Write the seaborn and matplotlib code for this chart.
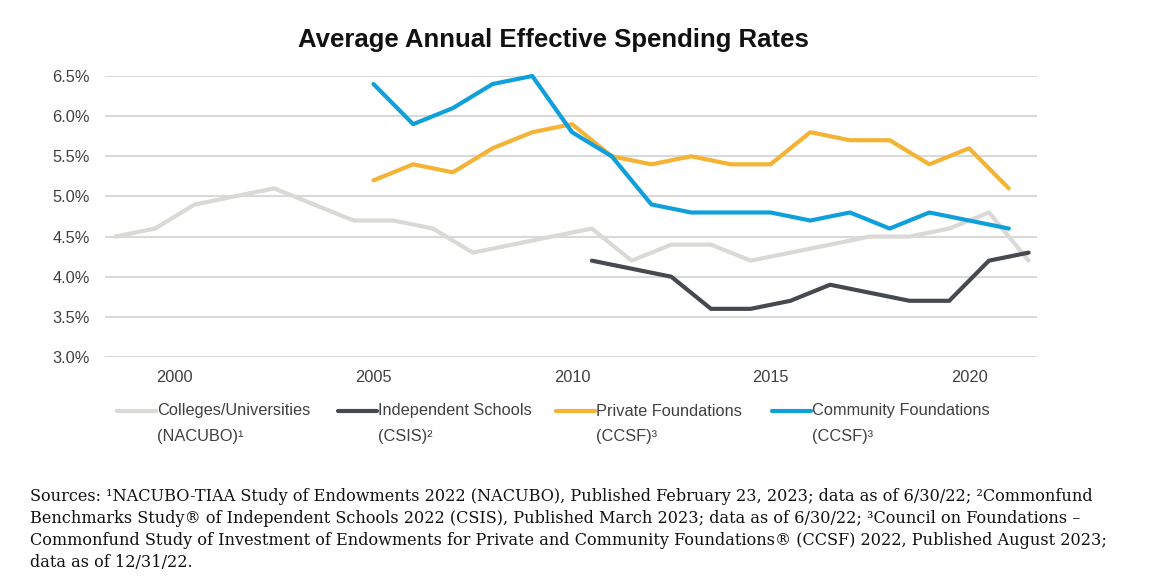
import pandas as pd
import numpy as np
import seaborn as sns
import matplotlib.pyplot as plt
from matplotlib.ticker import PercentFormatter
from matplotlib.lines import Line2D

# fiscal years ending 6/30 sit mid-year, CCSF (12/31) on the year tick
nacubo_years = [1998.5, 1999.5, 2000.5, 2001.5, 2002.5, 2003.5, 2004.5, 2005.5, 2006.5, 2007.5,
                2008.5, 2009.5, 2010.5, 2011.5, 2012.5, 2013.5, 2014.5, 2015.5, 2016.5, 2017.5,
                2018.5, 2019.5, 2020.5, 2021.5]
nacubo_rates = [4.5, 4.6, 4.9, 5.0, 5.1, 4.9, 4.7, 4.7, 4.6, 4.3,
                4.4, 4.5, 4.6, 4.2, 4.4, 4.4, 4.2, 4.3, 4.4, 4.5,
                4.5, 4.6, 4.8, 4.2]

csis_years = [2010.5, 2011.5, 2012.5, 2013.5, 2014.5, 2015.5, 2016.5, 2017.5, 2018.5, 2019.5,
              2020.5, 2021.5]
csis_rates = [4.2, 4.1, 4.0, 3.6, 3.6, 3.7, 3.9, 3.8, 3.7, 3.7, 4.2, 4.3]

ccsf_years = [2005, 2006, 2007, 2008, 2009, 2010, 2011, 2012, 2013, 2014, 2015, 2016, 2017,
              2018, 2019, 2020, 2021]
private_rates = [5.2, 5.4, 5.3, 5.6, 5.8, 5.9, 5.5, 5.4, 5.5, 5.4, 5.4, 5.8, 5.7, 5.7, 5.4, 5.6, 5.1]
community_rates = [6.4, 5.9, 6.1, 6.4, 6.5, 5.8, 5.5, 4.9, 4.8, 4.8, 4.8, 4.7, 4.8, 4.6, 4.8, 4.7, 4.6]

series = ['Colleges/Universities', 'Independent Schools', 'Private Foundations', 'Community Foundations']
sources = ['(NACUBO)\u00b9', '(CSIS)\u00b2', '(CCSF)\u00b3', '(CCSF)\u00b3']
colors = ['#d9d9d6', '#464a4f', '#f5b335', '#0fa0dc']

df = pd.concat([
    pd.DataFrame({'Year': nacubo_years, 'Rate': nacubo_rates, 'Series': series[0]}),
    pd.DataFrame({'Year': csis_years, 'Rate': csis_rates, 'Series': series[1]}),
    pd.DataFrame({'Year': ccsf_years, 'Rate': private_rates, 'Series': series[2]}),
    pd.DataFrame({'Year': ccsf_years, 'Rate': community_rates, 'Series': series[3]}),
])

sns.set_theme(style='white')
plt.rcParams['font.family'] = ['Liberation Sans', 'DejaVu Sans']

fig = plt.figure(figsize=(11.49, 5.80), dpi=100)
ax = fig.add_axes([105 / 1149, 1 - 357 / 580, 932 / 1149, 281 / 580])

sns.lineplot(data=df, x='Year', y='Rate', hue='Series', hue_order=series,
             palette=colors, linewidth=3, legend=False, ax=ax, clip_on=False)

ax.set_xlim(1998.24, 2021.71)
ax.set_ylim(3.0, 6.5)
ax.set_yticks(np.arange(3.0, 6.51, 0.5))
ax.set_xticks([2000, 2005, 2010, 2015, 2020])
ax.yaxis.set_major_formatter(PercentFormatter(decimals=1))
ax.grid(axis='y', color='#d9d9d9', linewidth=1.5)
ax.set_axisbelow(True)
for s in ax.spines.values():
    s.set_visible(False)
ax.tick_params(axis='both', length=0, labelsize=11.8, labelcolor='#404040')
ax.tick_params(axis='y', pad=11)
ax.tick_params(axis='x', pad=9)
ax.set_xlabel('')
ax.set_ylabel('')

fig.text(0.482, 1 - 40 / 580, 'Average Annual Effective Spending Rates', ha='center', va='center',
         fontsize=18.5, fontweight='bold', color='#111111')

# legend with handle on first text line
leg_x = [117, 338, 556, 772]
for name, src, c, x0 in zip(series, sources, colors, leg_x):
    fig.add_artist(Line2D([x0 / 1149, (x0 + 39) / 1149], [1 - 411 / 580] * 2,
                          color=c, linewidth=3, transform=fig.transFigure))
    fig.text((x0 + 40) / 1149, 1 - 411 / 580, name, ha='left', va='center',
             fontsize=11.8, color='#404040')
    fig.text((x0 + 40) / 1149, 1 - 437 / 580, src, ha='left', va='center',
             fontsize=11.8, color='#404040')

note = ('Sources: \u00b9NACUBO-TIAA Study of Endowments 2022 (NACUBO), Published February 23, 2023; data as of 6/30/22; \u00b2Commonfund\n'
        'Benchmarks Study\u00ae of Independent Schools 2022 (CSIS), Published March 2023; data as of 6/30/22; \u00b3Council on Foundations \u2013\n'
        'Commonfund Study of Investment of Endowments for Private and Community Foundations\u00ae (CCSF) 2022, Published August 2023;\n'
        'data as of 12/31/22.')
fig.text(30 / 1149, 1 - 488 / 580, note, ha='left', va='top', fontsize=11.65,
         family=['DejaVu Serif'], color='#111111', linespacing=1.38)

fig.savefig('out.png', dpi=100)
